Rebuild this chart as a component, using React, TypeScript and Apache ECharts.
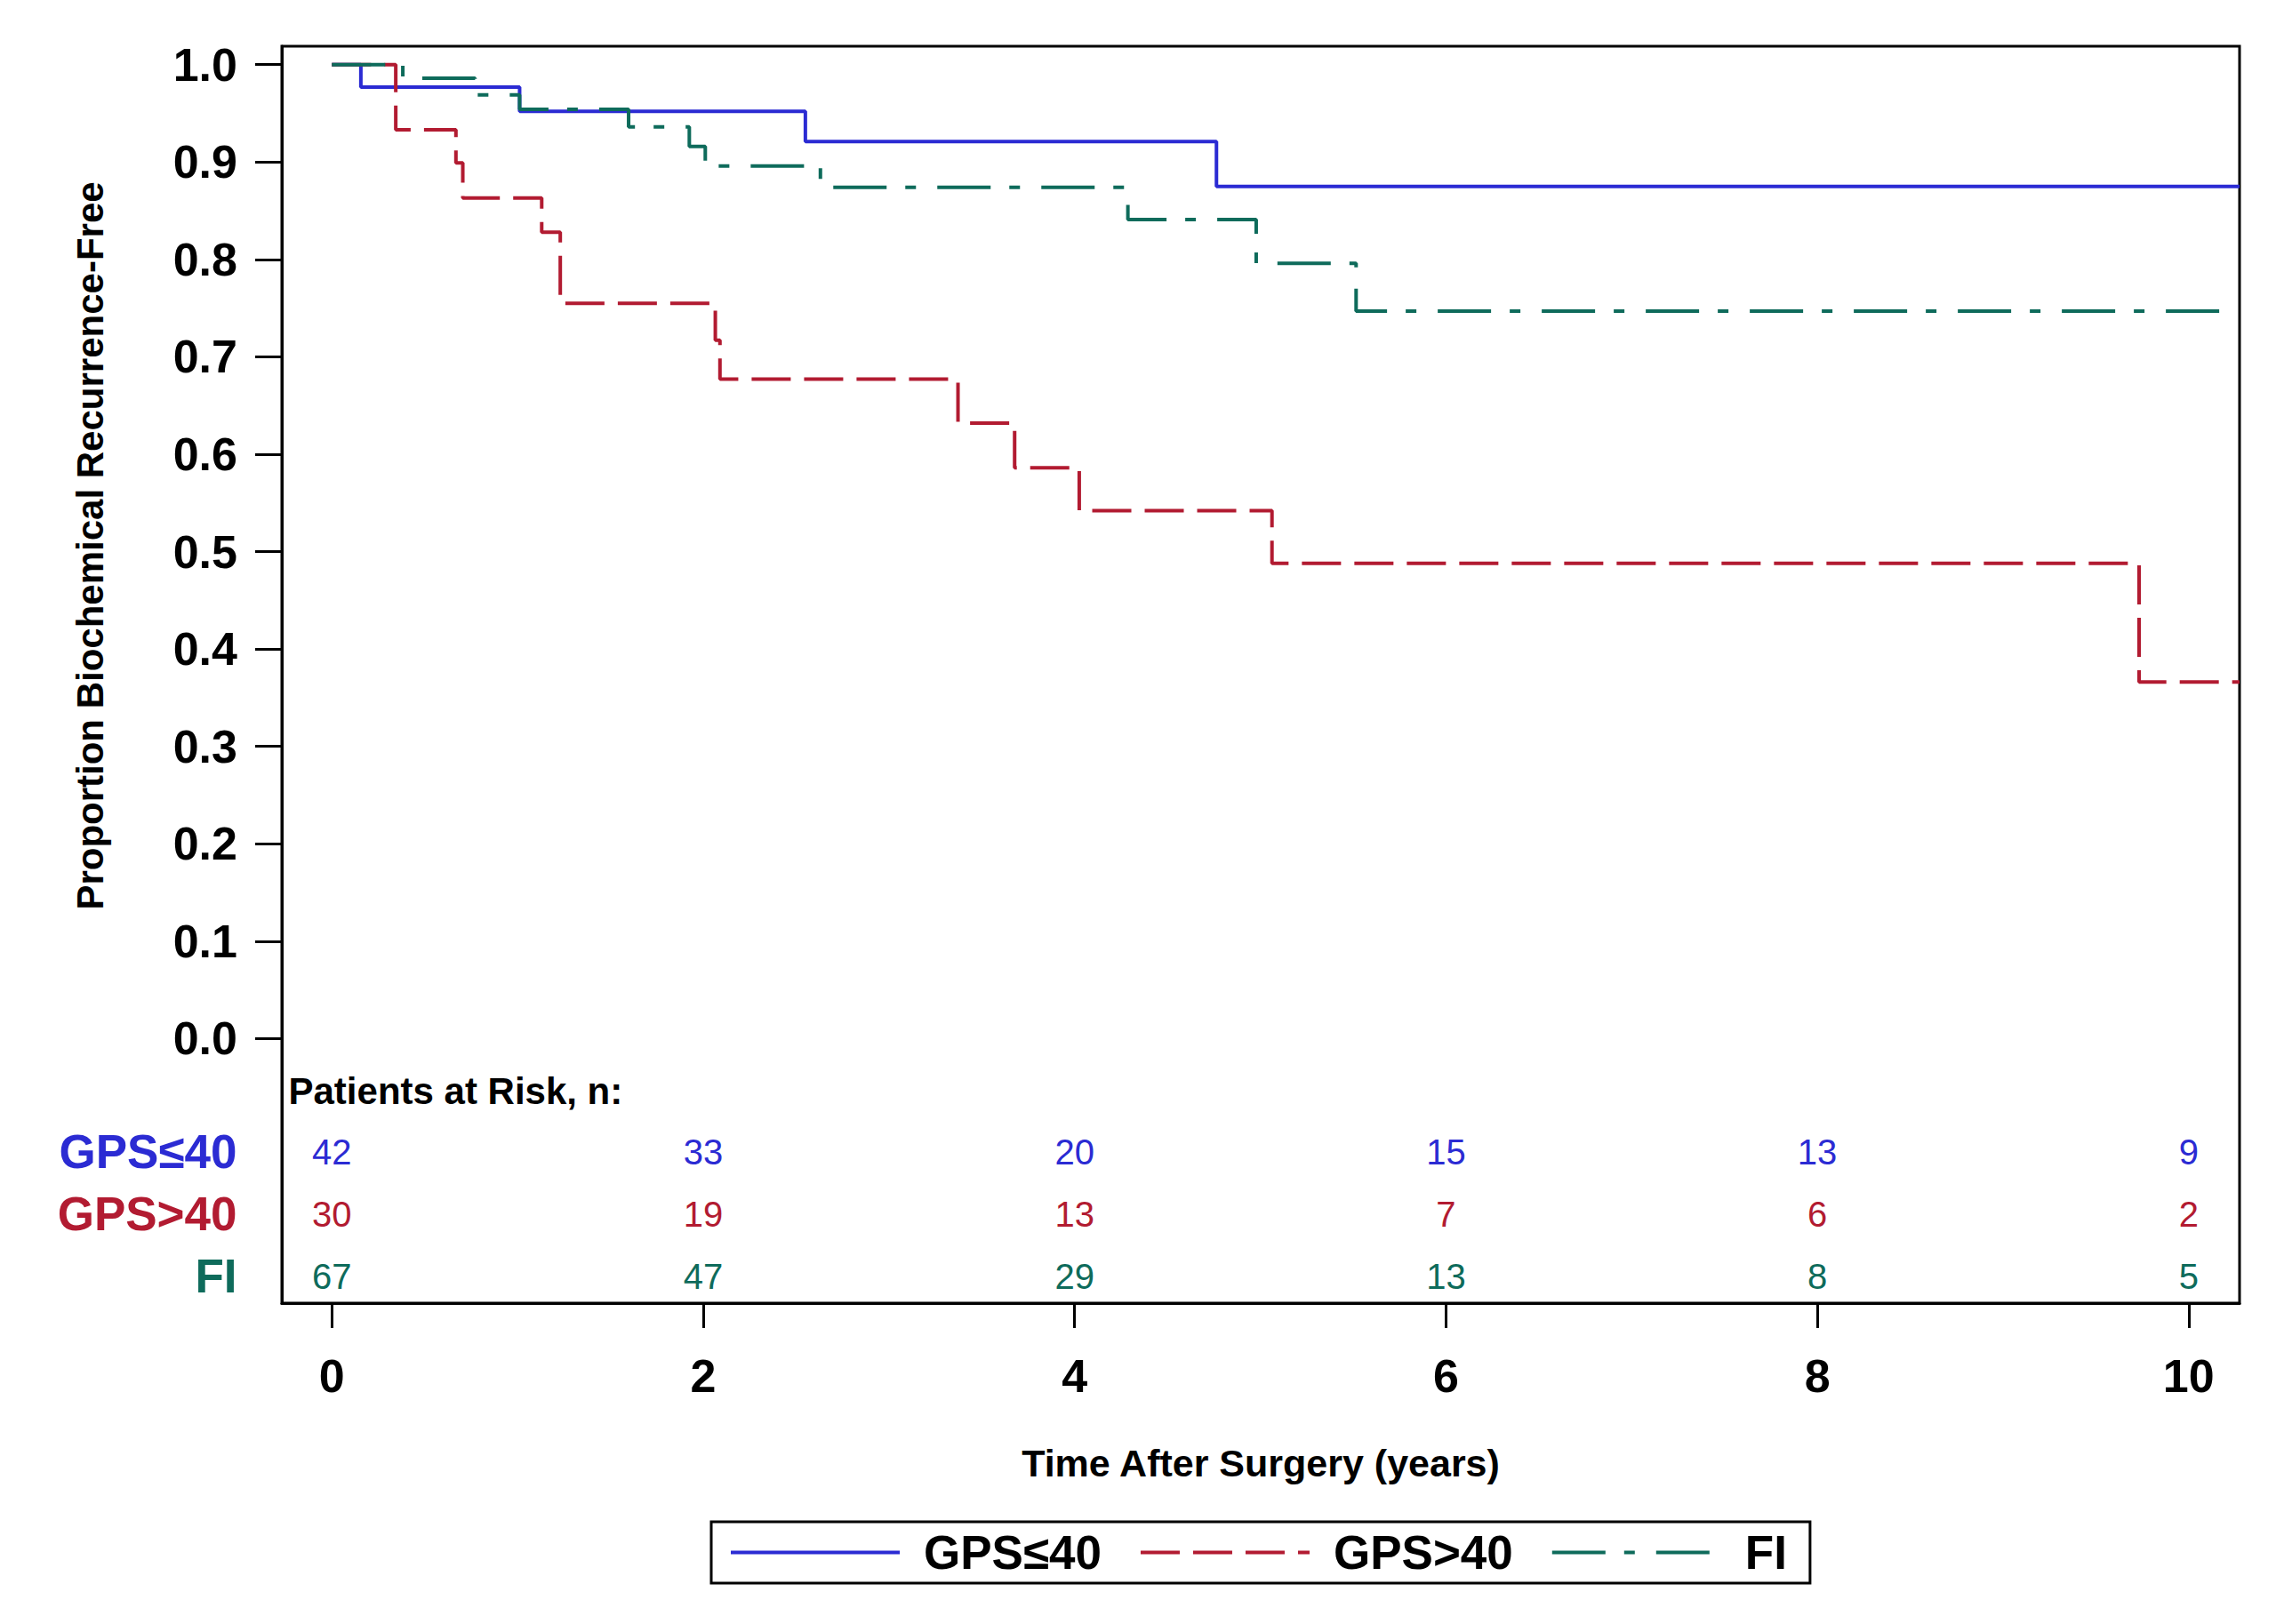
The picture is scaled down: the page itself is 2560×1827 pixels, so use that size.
import React, { useEffect, useRef } from "react";
import * as echarts from "echarts";

const FONT = '"Liberation Sans", Arial, Helvetica, sans-serif';

// ---------- data ----------
const seriesNames = ["GPS≤40", "GPS>40", "FI"];
const seriesColors = ["#2b2bd3", "#b21b31", "#0e6b5b"];

const gpsLowTimes = [0, 0.156, 1.011, 2.55, 4.764, 10.274];
const gpsLowSurv = [1, 0.977, 0.952, 0.921, 0.875, 0.875];

const gpsHighTimes = [0, 0.344, 0.668, 0.705, 1.13, 1.23, 2.065, 2.09, 3.372, 3.677, 4.025, 5.063, 9.733, 10.274];
const gpsHighSurv = [1, 0.933, 0.899, 0.863, 0.828, 0.755, 0.717, 0.677, 0.632, 0.586, 0.542, 0.488, 0.366, 0.366];

const fiTimes = [0, 0.382, 0.771, 1.011, 1.598, 1.925, 2.011, 2.631, 4.287, 4.978, 5.516, 10.195];
const fiSurv = [1, 0.986, 0.969, 0.954, 0.936, 0.916, 0.896, 0.874, 0.841, 0.796, 0.747, 0.747];

const xTicks = [0, 2, 4, 6, 8, 10];
const yTicks = [0, 0.1, 0.2, 0.3, 0.4, 0.5, 0.6, 0.7, 0.8, 0.9, 1.0];

const atRiskLow = [42, 33, 20, 15, 13, 9];
const atRiskHigh = [30, 19, 13, 7, 6, 2];
const atRiskFI = [67, 47, 29, 13, 8, 5];

const xTitle = "Time After Surgery (years)";
const yTitle = "Proportion Biochemical Recurrence-Free";
const riskHeader = "Patients at Risk, n:";

// ---------- layout ----------
const X_MIN = -0.2696;
const X_MAX = 10.274;
const Y_MIN = -0.2717;
const Y_MAX = 1.0189;
const ROW_Y = [-0.1165, -0.1804, -0.2443];
const HEADER_Y = -0.0536;
const LINE_W = 4;

const stepData = (t: number[], s: number[]) => t.map((v, i) => [v, s[i]]);

const lineTypes: any[] = ["solid", [44, 15], [60, 21, 12, 24]];
const survTimes = [gpsLowTimes, gpsHighTimes, fiTimes];
const survVals = [gpsLowSurv, gpsHighSurv, fiSurv];
const atRisk = [atRiskLow, atRiskHigh, atRiskFI];

const hiddenPoint = {
  type: "scatter",
  silent: true,
  clip: false,
  symbol: "circle",
  symbolSize: 1,
  itemStyle: { color: "rgba(0,0,0,0)", borderWidth: 0, opacity: 1 },
  emphasis: { disabled: true },
};

function buildOption(): any {
  const lineSeries = seriesNames.map((name, k) => ({
    name,
    type: "line",
    step: "end",
    data: stepData(survTimes[k], survVals[k]),
    symbol: "none",
    showSymbol: false,
    color: seriesColors[k],
    lineStyle: { color: seriesColors[k], width: LINE_W, type: lineTypes[k], cap: "butt" },
    silent: true,
    z: 3 + k,
  }));

  const riskSeries = seriesNames.map((name, k) => ({
    ...hiddenPoint,
    name: "risk-" + name,
    data: xTicks.map((t, i) => [t, ROW_Y[k], atRisk[k][i]]),
    label: {
      show: true,
      position: "inside",
      formatter: (p: any) => String(p.data[2]),
      fontFamily: FONT,
      fontSize: 40,
      color: seriesColors[k],
      opacity: 1,
    },
  }));

  const rowLabelSeries = {
    ...hiddenPoint,
    name: "row-labels",
    data: seriesNames.map((n, k) => ({
      value: [X_MIN, ROW_Y[k]],
      label: { color: seriesColors[k] },
      name: n,
    })),
    label: {
      show: true,
      position: "left",
      distance: 50,
      formatter: (p: any) => p.name,
      fontFamily: FONT,
      fontSize: 53,
      fontWeight: "bold",
      opacity: 1,
    },
  };

  const headerSeries = {
    ...hiddenPoint,
    name: "header",
    data: [{ value: [X_MIN, HEADER_Y], name: riskHeader }],
    label: {
      show: true,
      position: "right",
      distance: 7,
      formatter: (p: any) => p.name,
      fontFamily: FONT,
      fontSize: 42,
      fontWeight: "bold",
      color: "#000",
      opacity: 1,
    },
  };

  return {
    animation: false,
    backgroundColor: "#ffffff",
    textStyle: { fontFamily: FONT },
    grid: {
      left: 317,
      top: 52,
      width: 2202,
      height: 1414,
      show: true,
      borderColor: "#000",
      borderWidth: 3,
      backgroundColor: "transparent",
      containLabel: false,
    },
    xAxis: {
      type: "value",
      min: X_MIN,
      max: X_MAX,
      axisLine: { show: true, onZero: false, lineStyle: { color: "#000", width: 3 } },
      axisTick: { show: true, inside: false, length: 28, customValues: xTicks, lineStyle: { color: "#000", width: 3 } },
      axisLabel: {
        customValues: xTicks,
        margin: 56,
        fontFamily: FONT,
        fontSize: 52,
        fontWeight: "bold",
        color: "#000",
      },
      splitLine: { show: false },
      name: xTitle,
      nameLocation: "middle",
      nameGap: 158,
      nameTextStyle: { fontFamily: FONT, fontSize: 43, fontWeight: "bold", color: "#000" },
    },
    yAxis: {
      type: "value",
      min: Y_MIN,
      max: Y_MAX,
      axisLine: { show: true, onZero: false, lineStyle: { color: "#000", width: 3 } },
      axisTick: { show: true, inside: false, length: 30, customValues: yTicks, lineStyle: { color: "#000", width: 3 } },
      axisLabel: {
        customValues: yTicks,
        formatter: (v: number) => v.toFixed(1),
        margin: 50,
        fontFamily: FONT,
        fontSize: 52,
        fontWeight: "bold",
        color: "#000",
      },
      splitLine: { show: false },
    },
    legend: {
      data: seriesNames,
      left: 800,
      top: 1712,
      orient: "horizontal",
      padding: [8, 26, 8, 20],
      borderColor: "#000",
      borderWidth: 3,
      itemWidth: 190,
      itemHeight: 3,
      itemGap: 42,
      selectedMode: false,
      itemStyle: { opacity: 0 },
      lineStyle: { width: 4 },
      formatter: (name: string) => `{t|${name}}`,
      textStyle: {
        rich: {
          t: {
            fontFamily: FONT,
            fontSize: 53,
            fontWeight: "bold",
            color: "#000",
            lineHeight: 58,
            padding: [0, 0, 0, 22],
          },
        },
      },
    },
    graphic: [
      {
        type: "text",
        x: 101,
        y: 614,
        rotation: Math.PI / 2,
        silent: true,
        style: {
          text: yTitle,
          fontFamily: FONT,
          fontSize: 42,
          fontWeight: "bold",
          fill: "#000",
          align: "center",
          verticalAlign: "middle",
        },
      },
    ],
    series: [...lineSeries, ...riskSeries, rowLabelSeries, headerSeries],
  };
}

export default function App() {
  const ref = useRef<HTMLDivElement>(null);
  useEffect(() => {
    if (!ref.current) return;
    const chart = echarts.init(ref.current, undefined, { renderer: "svg" });
    chart.setOption(buildOption());
    return () => chart.dispose();
  }, []);
  return (
    <div
      ref={ref}
      style={{ position: "fixed", left: 0, top: 0, width: 2560, height: 1827, background: "#fff" }}
    />
  );
}
